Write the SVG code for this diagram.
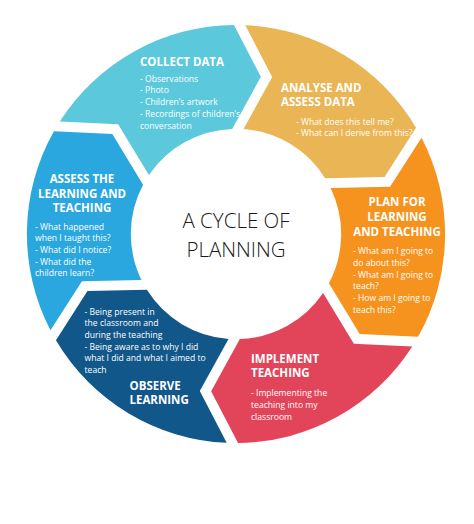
<svg xmlns="http://www.w3.org/2000/svg" xmlns:xlink="http://www.w3.org/1999/xlink" width="474" height="524" viewBox="0 0 474 524">
<style>
.h{font-family:"Open Sans","Liberation Sans",sans-serif;font-weight:700;font-size:11.5px;fill:#fff}
.b{font-family:"Open Sans","Liberation Sans",sans-serif;font-weight:400;font-size:8.6px;fill:#fff}
.c{font-family:"Open Sans","Liberation Sans",sans-serif;font-weight:300;font-size:20.5px;fill:#1a1a1a;text-anchor:middle}
.m{text-anchor:middle}
</style>
<defs>
<path id="seg" d="M 5.67 -209 A 209 209 0 0 1 178.16 -109.41 L 147.51 -59.64 L 88.10 -57.41 A 105 105 0 0 0 5.67 -105 L 33.45 -157.60 Z"/>
</defs>
<rect width="474" height="524" fill="#fff"/>
<g id="collect">
<use xlink:href="#seg" transform="translate(236 234) rotate(-59)" fill="#5BC8DB"/>
<text class="h" x="140" y="65.5">COLLECT DATA</text>
<text class="b" x="140" y="81.5">- Observations</text>
<text class="b" x="140" y="93">- Photo</text>
<text class="b" x="140" y="105">- Children’s artwork</text>
<text class="b" x="140" y="116.5">- Recordings of children’s</text>
<text class="b" x="140" y="128.5">conversation</text>
</g>
<g id="analyse">
<use xlink:href="#seg" transform="translate(236 234) rotate(1)" fill="#EAB554"/>
<text class="h" x="281" y="91.5">ANALYSE AND</text>
<text class="h" x="281" y="106">ASSESS DATA</text>
<text class="b" x="296" y="124.5">- What does this tell me?</text>
<text class="b" x="296" y="136">- What can I derive from this?</text>
</g>
<g id="plan">
<use xlink:href="#seg" transform="translate(236 234) rotate(61)" fill="#F6931E"/>
<text class="h m" x="397" y="206">PLAN FOR</text>
<text class="h m" x="397" y="221">LEARNING</text>
<text class="h m" x="397" y="235.5">AND TEACHING</text>
<text class="b" x="353" y="254">- What am I going to</text>
<text class="b" x="353" y="266">do about this?</text>
<text class="b" x="353" y="277.5">- What am I going to</text>
<text class="b" x="353" y="289">teach?</text>
<text class="b" x="353" y="301">- How am I going to</text>
<text class="b" x="353" y="313">teach this?</text>
</g>
<g id="implement">
<use xlink:href="#seg" transform="translate(236 234) rotate(121)" fill="#E2455A"/>
<text class="h" x="251" y="363">IMPLEMENT</text>
<text class="h" x="251" y="377">TEACHING</text>
<text class="b" x="251" y="396">- Implementing the</text>
<text class="b" x="251" y="408">teaching into my</text>
<text class="b" x="251" y="419.5">classroom</text>
</g>
<g id="observe">
<use xlink:href="#seg" transform="translate(236 234) rotate(181)" fill="#11578A"/>
<text class="b" x="84.5" y="314.5">- Being present in</text>
<text class="b" x="84.5" y="326">the classroom and</text>
<text class="b" x="84.5" y="337.5">during the teaching</text>
<text class="b" x="84.5" y="349.5">- Being aware as to why I did</text>
<text class="b" x="84.5" y="361">what I did and what I aimed to</text>
<text class="b" x="84.5" y="373">teach</text>
<text class="h" x="129.5" y="390">OBSERVE</text>
<text class="h" x="129.5" y="404">LEARNING</text>
</g>
<g id="assess">
<use xlink:href="#seg" transform="translate(236 234) rotate(241)" fill="#2AA7DF"/>
<text class="h m" x="82" y="183">ASSESS THE</text>
<text class="h m" x="82" y="197.5">LEARNING AND</text>
<text class="h m" x="82" y="212">TEACHING</text>
<text class="b" x="35" y="229.5">- What happened</text>
<text class="b" x="35" y="241">when I taught this?</text>
<text class="b" x="35" y="253">- What did I notice?</text>
<text class="b" x="35" y="264.5">- What did the</text>
<text class="b" x="35" y="276">children learn?</text>
</g>
<g id="center">
<text class="c" x="236" y="228">A CYCLE OF</text>
<text class="c" x="236" y="256.5">PLANNING</text>
</g>
</svg>
